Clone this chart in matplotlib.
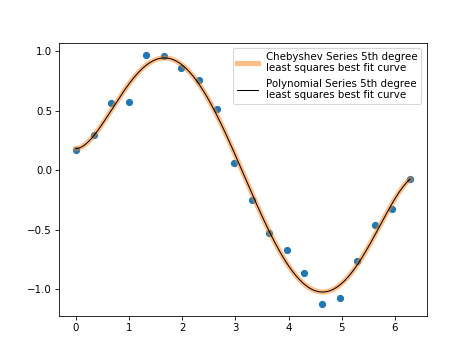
import numpy as np
import matplotlib.pyplot as plt
from numpy.polynomial import Chebyshev, Polynomial

# sample points
x_vals = [0.000, 0.331, 0.661, 0.992, 1.323, 1.653, 1.984, 2.315, 2.646, 2.976,
          3.307, 3.638, 3.968, 4.299, 4.630, 4.960, 5.291, 5.622, 5.952, 6.283]
y_vals = [0.174, 0.297, 0.566, 0.571, 0.969, 0.964, 0.860, 0.762, 0.515, 0.060,
          -0.252, -0.524, -0.667, -0.860, -1.120, -1.076, -0.759, -0.457, -0.328, -0.070]
degree = 5

x = np.array(x_vals)
y = np.array(y_vals)

cheb = Chebyshev.fit(x, y, degree)
poly = Polynomial.fit(x, y, degree)
xx = np.linspace(x.min(), x.max(), 200)

fig, ax = plt.subplots(figsize=(474 / 74, 355 / 74), dpi=74)
ax.plot(x, y, 'o')
ax.plot(xx, cheb(xx), lw=5, alpha=0.5, color='C1',
        label="Chebyshev Series 5th degree\nleast squares best fit curve")
ax.plot(xx, poly(xx), lw=1, color='k',
        label="Polynomial Series 5th degree\nleast squares best fit curve")
ax.legend(loc='upper right')

plt.savefig('out.png', dpi=74)
